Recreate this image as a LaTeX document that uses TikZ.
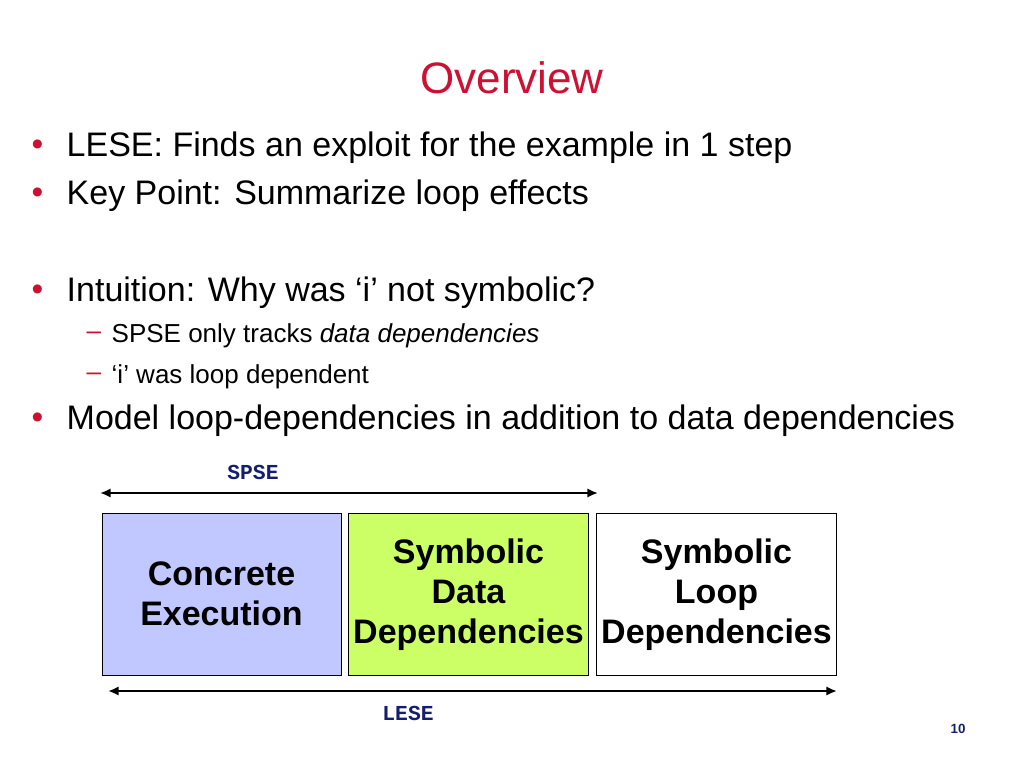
\documentclass[tikz,border=0pt]{standalone}
\usepackage{fontspec}
\setmainfont{Liberation Sans}
\setmonofont{Liberation Mono}
\usetikzlibrary{arrows.meta,positioning}
\definecolor{titlered}{RGB}{204,17,51}
\definecolor{labelblue}{RGB}{20,30,110}
\definecolor{concreteblue}{RGB}{192,200,255}
\definecolor{datagreen}{RGB}{204,255,102}

\begin{document}
\begin{tikzpicture}[
    x=0.75pt, y=-0.75pt,
    bullet/.style={anchor=west, text=titlered, font=\fontsize{25}{30}\selectfont},
    item/.style={anchor=west, font=\fontsize{25.5}{30}\selectfont},
    subitem/.style={anchor=west, font=\fontsize{19.5}{23}\selectfont},
    stagebox/.style={draw, line width=0.6pt, minimum width=179.25pt, minimum height=121.5pt, align=center, font=\fontsize{25.5}{30}\selectfont\bfseries},
    spanlabel/.style={font=\fontsize{16}{18}\selectfont\ttfamily\bfseries, text=labelblue},
    span/.style={{Latex[length=8pt,width=7pt]}-{Latex[length=8pt,width=7pt]}, line width=2.2pt},
    >=Latex
]
    \useasboundingbox (0,0) rectangle (1024,768);

    % Title
    \node[text=titlered, font=\fontsize{33}{38}\selectfont] (title) at (512,78) {Overview};

    % Bullets
    \node[bullet] (b1) at (27,148) {•};
    \node[item] (t1) at (62,148) {LESE: Finds an exploit for the example in 1 step};
    \node[bullet] (b2) at (27,196) {•};
    \node[item] (t2) at (62,196) {Key Point: Summarize loop effects};
    \node[bullet] (b3) at (27,293) {•};
    \node[item] (t3) at (62,293) {Intuition: Why was ‘i’ not symbolic?};
    \node[subitem, text=titlered] (d1) at (82,336) {–};
    \node[subitem] (s1) at (107,336) {SPSE only tracks \textit{data dependencies}};
    \node[subitem, text=titlered] (d2) at (82,377) {–};
    \node[subitem] (s2) at (107,377) {‘i’ was loop dependent};
    \node[bullet] (b4) at (27,421) {•};
    \node[item] (t4) at (62,421) {Model loop-dependencies in addition to data dependencies};

    % Stages
    \node[stagebox, fill=concreteblue] (concrete) at (221.5,594) {Concrete\\Execution};
    \node[stagebox, fill=datagreen, anchor=north] (data) at (468.5,513) {Symbolic\\Data\\Dependencies};
    \node[stagebox, fill=white, anchor=north] (loop) at (716.5,513) {Symbolic\\Loop\\Dependencies};

    % Spans
    \coordinate (spsea) at (100,493);
    \coordinate (spseb) at (598,493);
    \draw[span] (spsea) -- (spseb);
    \node[spanlabel] (spse) at (253,472) {SPSE};
    \coordinate (lesea) at (108,691);
    \coordinate (leseb) at (837,691);
    \draw[span] (lesea) -- (leseb);
    \node[spanlabel] (lese) at (408,713) {LESE};

    % Page number
    \node[font=\fontsize{10}{12}\selectfont\bfseries, text=labelblue] (page) at (958,729) {10};
\end{tikzpicture}
\end{document}
